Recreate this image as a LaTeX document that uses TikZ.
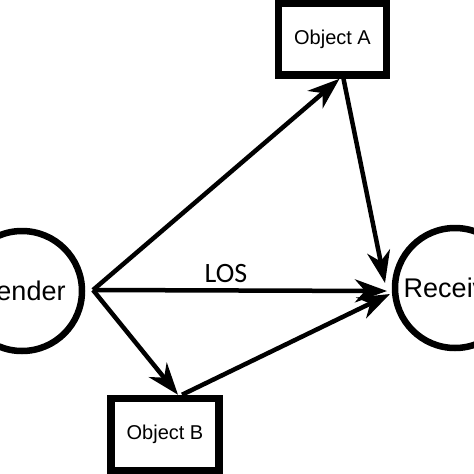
\documentclass[tikz,border=0pt]{standalone}
\usepackage{fontspec}
\setmainfont{Liberation Sans}
\newfontfamily\losfont{Carlito}
\usetikzlibrary{arrows.meta}

\begin{document}
\begin{tikzpicture}[x=1pt, y=-1pt,
  party/.style={draw, circle, line width=6.5pt, minimum size=120pt, inner sep=0pt, font=\fontsize{27}{30}\selectfont},
  obj/.style={draw, line width=7.5pt, minimum width=108pt, minimum height=72pt, inner sep=0pt, font=\fontsize{20}{24}\selectfont},
  ray/.style={line width=4.5pt, -{Stealth[length=32pt, width=23pt, inset=10pt]}}
]
\useasboundingbox (0,0) rectangle (474,474);

% Sender and receiver
\node[party] (snd) at (22,291) {Sender};
\node[party] (rcv) at (455,288) {\hspace*{4pt}Receiver};

% Reflecting objects
\node[obj] (objA) at (332.5,39) {Object A};
\node[obj] (objB) at (165,434.5) {Object B};

% Ray end points
\coordinate (tx) at (93,290);
\coordinate (rx) at (388,290);

% Line of sight
\draw[ray] (tx) -- ([shift={(-1,1)}]rx);
\node[font=\losfont\fontsize{28}{32}\selectfont] (los) at (226,274) {LOS};

% Path via Object A
\draw[ray] (tx) -- ([shift={(7,0)}]objA.south);
\draw[ray] ([shift={(11,0)}]objA.south) -- ([shift={(-3,-7)}]rx);

% Path via Object B
\draw[ray] (tx) -- ([shift={(13,0)}]objB.north);
\draw[ray] ([shift={(17,0)}]objB.north) -- ([shift={(2,4)}]rx);
\end{tikzpicture}
\end{document}
